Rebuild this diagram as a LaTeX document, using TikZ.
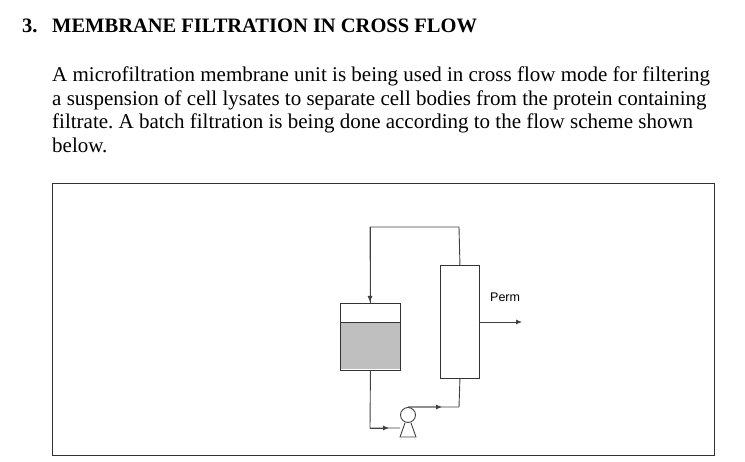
\documentclass[tikz,border=0pt]{standalone}
\usepackage{fontspec}
\setmainfont{Liberation Serif}
\setsansfont{Liberation Sans}
\usetikzlibrary{calc,arrows.meta}
\frenchspacing
\begin{document}
\begin{tikzpicture}[x=1pt,y=-1pt,
  txt/.style={anchor=base west,inner sep=0pt,font=\fontsize{21}{23}\selectfont},
  ln/.style={draw=black!75,line width=0.9pt},
  arr/.style={-{Latex[length=6pt,width=5pt]}},
  unit/.style={draw=black!80,line width=0.9pt}]
\useasboundingbox (0,0) rectangle (745,462);
\node[txt,font=\bfseries\fontsize{20.5}{22}\selectfont] (num) at (22,33) {3.};
\node[txt,font=\bfseries\fontsize{20.5}{22}\selectfont] (title) at (52,33) {MEMBRANE FILTRATION IN CROSS FLOW};
\node[txt] (l1) at (52,82) {A microfiltration membrane unit is being used in cross flow mode for filtering};
\node[txt] (l2) at (52,106) {a suspension of cell lysates to separate cell bodies from the protein containing};
\node[txt] (l3) at (52,129) {filtrate. A batch filtration is being done according to the flow scheme shown};
\node[txt] (l4) at (52,153) {below.};
\node[draw=black!80,line width=0.8pt,minimum width=662,minimum height=272,anchor=north west,inner sep=0] (frame) at (52,183) {};
% tank
\node[unit,minimum width=60,minimum height=67,anchor=north west,inner sep=0] (tank) at (340,303) {};
\fill[black!25] (340.5,322) rectangle (399.5,369.5);
\draw[unit] (340,322) -- (400,322);
\draw[unit] (340,303) rectangle (400,370);
% column
\node[unit,minimum width=39,minimum height=113,anchor=north west,inner sep=0] (col) at (440,265) {};
% pump
\node[draw=black!75,line width=0.9pt,circle,minimum size=15,inner sep=0] (pump) at (408,415) {};
\draw[ln] ($(pump.south)+(-3,0)$) -- (400,437) -- (416,437) -- ($(pump.south)+(3,0)$);
\coordinate (tb) at (370,428);
\coordinate (pt) at (459,407);
\coordinate (top1) at (370,227);
\coordinate (top2) at (459,227);
\draw[ln] (tank.south) -- (tb) -- (pump.west |- tb);
\draw[ln,arr] (tb) -- (389,428);
\draw[ln] (pump.north) -- (pt) -- (col.south);
\draw[ln,arr] (pump.north) -- (442,407);
\draw[ln] (col.north) -- (top2) -- (top1) -- (tank.north);
\draw[ln,arr] (top1) -- (370,302);
\coordinate (permend) at (522,322);
\draw[ln,arr] (479,322) -- (permend);
\node[anchor=base west,inner sep=0,font=\sffamily\fontsize{12.5}{14}\selectfont] (perm) at (490,302) {Perm};
\end{tikzpicture}
\end{document}
